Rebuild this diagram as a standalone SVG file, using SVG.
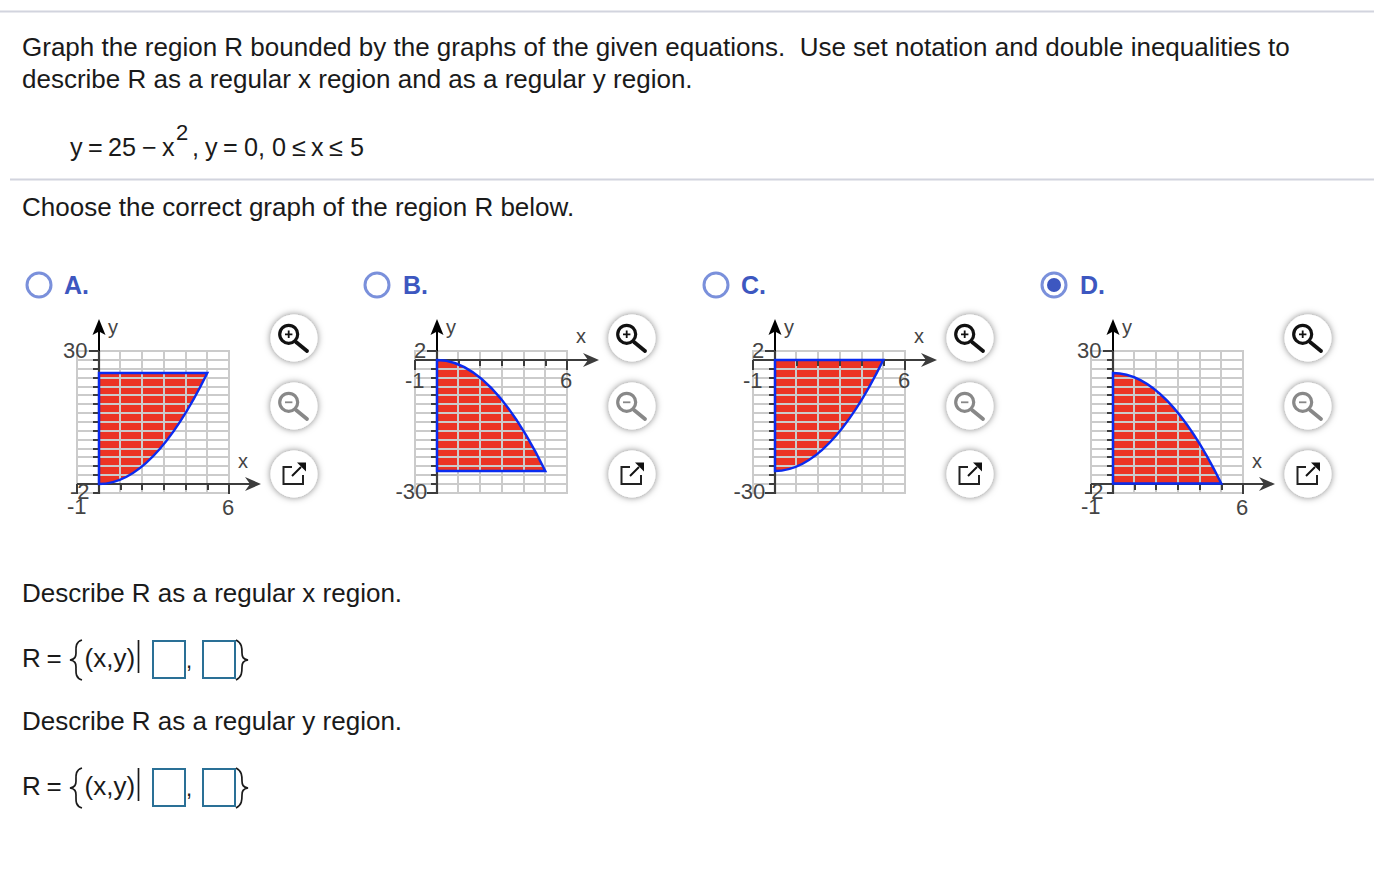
<svg xmlns="http://www.w3.org/2000/svg" width="1374" height="882" viewBox="0 0 1374 882">
<style>
text{font-family:"Liberation Sans",Arial,sans-serif;fill:#1a1a1a}
.b{font-size:26px;white-space:pre}
.f{font-size:25.2px}
.s{font-size:22px}
.g{font-size:22px;fill:#444}
.v{font-size:20px;fill:#444}
.c{font-size:22px}
.opt{font-size:25px;font-weight:bold;fill:#3d57c0}
.grid{fill:none;stroke:#cbcbcb;stroke-width:2}
.tick{fill:none;stroke:#3c3c3c;stroke-width:2}
.fill{fill:#ec3324}
.curve{fill:none;stroke:#0a2bf0;stroke-width:2.4}
.rad{fill:#fff;stroke:#7a90db;stroke-width:3}
.ib{fill:none;stroke:#2a7096;stroke-width:2}
.br{fill:none;stroke:#1a1a1a;stroke-width:1.7}
.sep{stroke:#d2d4de;stroke-width:2}
</style>
<defs>
<filter id="sh" x="-50%" y="-50%" width="200%" height="200%"><feDropShadow dx="0" dy="0" stdDeviation="3.5" flood-color="#000" flood-opacity=".5"/></filter>
<path id="gridp" class="grid" d="M0 -1V142M22 -1V142M43 -1V142M65 -1V142M87 -1V142M109 -1V142M130 -1V142M152 -1V142M-1 0H153M-1 9H153M-1 18H153M-1 27H153M-1 36H153M-1 44H153M-1 53H153M-1 62H153M-1 71H153M-1 80H153M-1 89H153M-1 98H153M-1 106H153M-1 115H153M-1 124H153M-1 133H153M-1 142H153"/>
<path id="yt" class="tick" d="M0 9H-6M0 18H-6M0 27H-6M0 36H-6M0 44H-6M0 53H-6M0 62H-6M0 71H-6M0 80H-6M0 89H-6M0 98H-6M0 106H-6M0 115H-6M0 124H-6M0 133H-6"/>
<path id="yax" d="M0 0V143" fill="none" stroke="#3c3c3c" stroke-width="2.200"/>
<g id="yhead"><path d="M0 0V-20" fill="none" stroke="#000" stroke-width="2"/><path d="M0 -32L6.500 -16L0 -19.500L-6.500 -16Z" fill="#000"/></g>
<g id="xaxd"><path d="M-22 0H155" fill="none" stroke="#3c3c3c" stroke-width="2.200"/><path d="M162 0L146 -7L151 0L146 7Z" fill="#3c3c3c"/><path class="tick" d="M-22 0V10M22 0V6M43 0V6M65 0V6M87 0V6M109 0V6M130 0V10"/></g>
<g id="btn"><circle cx="0" cy="0" r="23.500" fill="#fff" filter="url(#sh)"/></g>
<g id="zin"><use href="#btn"/><circle cx="-5.300" cy="-3.700" r="9" fill="none" stroke="#111" stroke-width="3.200"/><path d="M2 4L13 13" fill="none" stroke="#111" stroke-width="3.800" stroke-linecap="round"/><path d="M-9 -3.700H-1.600M-5.300 -7.400V0" stroke="#111" stroke-width="1.800"/></g>
<g id="zout"><use href="#btn"/><circle cx="-5.300" cy="-3.700" r="9" fill="none" stroke="#888" stroke-width="3.200"/><path d="M2 4L13 13" fill="none" stroke="#888" stroke-width="3.800" stroke-linecap="round"/><path d="M-9 -3.700H-1.600" stroke="#888" stroke-width="1.800"/></g>
<g id="ext"><use href="#btn"/><path d="M-2 -7H-10.500V10H9V1" fill="none" stroke="#222" stroke-width="2"/><path d="M-2 2L7 -7" fill="none" stroke="#111" stroke-width="2"/><path d="M3 -11.500H12V-2.500Z" fill="#111"/></g>
<path id="lb" class="br" d="M13 -20C6 -18 7 -12 7 -7C7 -3 6 -1 1 0C6 1 7 3 7 7C7 12 6 18 13 20"/>
<path id="rb" class="br" d="M0 -20C6 -17 6 -12 6 -7C6 -3 7 -1 12 0C7 1 6 3 6 7C6 12 6 17 0 20"/>
</defs>

<g id="question">
<line class="sep" x1="0" y1="11.500" x2="1374" y2="11.500"/>
<text class="b" x="22" y="56" xml:space="preserve">Graph the region R bounded by the graphs of the given equations.  Use set notation and double inequalities to</text>
<text class="b" x="22" y="88">describe R as a regular x region and as a regular y region.</text>
<text class="f" x="70" y="156">y</text><text class="f" x="88" y="156">=</text><text class="f" x="108" y="156">25</text><text class="f" x="142" y="156">−</text><text class="f" x="162" y="156">x</text><text class="s" x="176" y="140">2</text><text class="f" x="192" y="156">,</text><text class="f" x="205" y="156">y</text><text class="f" x="223" y="156">=</text><text class="f" x="244" y="156">0,</text><text class="f" x="272" y="156">0</text><text class="f" x="292" y="156">≤</text><text class="f" x="311" y="156">x</text><text class="f" x="329" y="156">≤</text><text class="f" x="350" y="156">5</text>
<line class="sep" x1="10" y1="179.500" x2="1374" y2="179.500"/>
<text class="b" x="22" y="216">Choose the correct graph of the region R below.</text>
</g>

<g id="option-a">
<circle class="rad" cx="39" cy="285" r="12"/><text class="opt" x="64" y="294">A.</text>
<path class="fill" d="M99 484Q153 484 207.300 373H99Z"/>
<use href="#gridp" x="77" y="351"/>
<use href="#yt" x="99" y="351"/><use href="#yax" x="99" y="351"/><use href="#yhead" x="99" y="351"/>
<use href="#xaxd" x="99" y="484"/>
<path class="tick" d="M89 351H99M93 493H99"/>
<path class="curve" d="M99 484Q153 484 207.300 373H99Z"/>
<text class="v" x="108" y="334">y</text><text class="v" x="238" y="467.500">x</text>
<text class="g" x="63" y="358">30</text><text class="g" x="70" y="499">-2</text><text class="g" x="67" y="514">-1</text><text class="g" x="222" y="515">6</text>
<use href="#zin" x="294" y="338"/><use href="#zout" x="294" y="406"/><use href="#ext" x="294" y="474"/>
</g>

<g id="option-b">
<circle class="rad" cx="377" cy="285" r="12"/><text class="opt" x="403" y="294">B.</text>
<path class="fill" d="M437 360Q491 360 545.300 471H437Z"/>
<use href="#gridp" x="415" y="351"/>
<use href="#yt" x="437" y="351"/><use href="#yax" x="437" y="351"/><use href="#yhead" x="437" y="351"/>
<use href="#xaxd" x="437" y="360"/>
<path class="tick" d="M427 351H437M427 493H437"/>
<path class="curve" d="M437 360Q491 360 545.300 471H437Z"/>
<text class="v" x="446" y="334">y</text><text class="v" x="576" y="343">x</text>
<text class="g" x="414" y="358">2</text><text class="g" x="405" y="388">-1</text><text class="g" x="560" y="388">6</text><text class="g" x="395.500" y="499">-30</text>
<use href="#zin" x="632" y="338"/><use href="#zout" x="632" y="406"/><use href="#ext" x="632" y="474"/>
</g>

<g id="option-c">
<circle class="rad" cx="716" cy="285" r="12"/><text class="opt" x="741" y="294">C.</text>
<path class="fill" d="M775 471Q829 471 883.300 360H775Z"/>
<use href="#gridp" x="753" y="351"/>
<use href="#yt" x="775" y="351"/><use href="#yax" x="775" y="351"/><use href="#yhead" x="775" y="351"/>
<use href="#xaxd" x="775" y="360"/>
<path class="tick" d="M765 351H775M765 493H775"/>
<path class="curve" d="M775 471Q829 471 883.300 360H775Z"/>
<text class="v" x="784" y="334">y</text><text class="v" x="914" y="343">x</text>
<text class="g" x="752" y="358">2</text><text class="g" x="743" y="388">-1</text><text class="g" x="898" y="388">6</text><text class="g" x="733.500" y="499">-30</text>
<use href="#zin" x="970" y="338"/><use href="#zout" x="970" y="406"/><use href="#ext" x="970" y="474"/>
</g>

<g id="option-d">
<circle class="rad" cx="1054" cy="285" r="12"/><circle cx="1054" cy="285" r="7" fill="#3d57c0"/><text class="opt" x="1080" y="294">D.</text>
<path class="fill" d="M1113 373Q1167 373 1221.300 484H1113Z"/>
<use href="#gridp" x="1091" y="351"/>
<use href="#yt" x="1113" y="351"/><use href="#yax" x="1113" y="351"/><use href="#yhead" x="1113" y="351"/>
<use href="#xaxd" x="1113" y="484"/>
<path class="tick" d="M1103 351H1113M1107 493H1113"/>
<path class="curve" d="M1113 373Q1167 373 1221.300 483.500H1113Z"/>
<text class="v" x="1122" y="334">y</text><text class="v" x="1252" y="467.500">x</text>
<text class="g" x="1077" y="358">30</text><text class="g" x="1084" y="499">-2</text><text class="g" x="1081" y="514">-1</text><text class="g" x="1236" y="515">6</text>
<use href="#zin" x="1308" y="338"/><use href="#zout" x="1308" y="406"/><use href="#ext" x="1308" y="474"/>
</g>

<g id="answer-x">
<text class="b" x="22" y="602">Describe R as a regular x region.</text>
<text class="b" x="22" y="667">R</text><text class="b" x="46.500" y="667">=</text><use href="#lb" x="69" y="660"/><text class="b" x="84.500" y="667">(x,y)</text>
<line x1="138.500" y1="640" x2="138.500" y2="673" stroke="#1a1a1a" stroke-width="1.700"/>
<rect class="ib" x="153" y="641" width="32" height="37"/><text class="c" x="186" y="668">,</text><rect class="ib" x="203" y="641" width="32" height="37"/><use href="#rb" x="236" y="660"/>
</g>

<g id="answer-y">
<text class="b" x="22" y="730">Describe R as a regular y region.</text>
<text class="b" x="22" y="795">R</text><text class="b" x="46.500" y="795">=</text><use href="#lb" x="69" y="788"/><text class="b" x="84.500" y="795">(x,y)</text>
<line x1="138.500" y1="768" x2="138.500" y2="801" stroke="#1a1a1a" stroke-width="1.700"/>
<rect class="ib" x="153" y="769" width="32" height="37"/><text class="c" x="186" y="796">,</text><rect class="ib" x="203" y="769" width="32" height="37"/><use href="#rb" x="236" y="788"/>
</g>
</svg>
